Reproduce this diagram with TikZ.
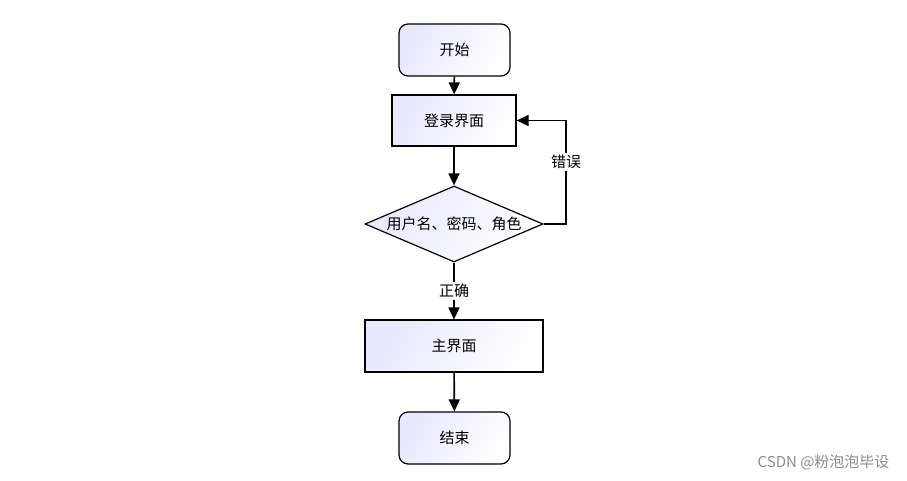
\documentclass[tikz,border=0pt]{standalone}
\usepackage{fontspec}
\setmainfont{Liberation Sans}
\newfontfamily\cjk{Noto Sans CJK SC}
\usetikzlibrary{shapes.geometric,arrows.meta}
\begin{document}
\begin{tikzpicture}[x=1pt,y=-1pt,
  box/.style={draw=black,line width=1.2pt,left color=blue!9!white,right color=white,shading angle=60,font=\cjk\fontsize{15}{18}\selectfont,inner sep=0pt},
  arr/.style={line width=1.6pt,-{Triangle[length=12pt,width=11pt]}},
  lab/.style={fill=white,font=\cjk\fontsize{15}{18}\selectfont,inner sep=2pt}]
\useasboundingbox (0,0) rectangle (907,481);
\node[box,rounded corners=9pt,minimum width=111pt,minimum height=52pt] (s) at (454.5,50) {开始};
\node[box,minimum width=124pt,minimum height=51pt] (l) at (454,120.5) {登录界面};
\node[box,diamond,aspect=2.34,minimum width=178pt,minimum height=76pt,inner sep=0pt] (d) at (454,224) {};
\node[font=\cjk\fontsize{15}{18}\selectfont] (dt) at (454,224) {用户名、密码、角色};
\node[box,minimum width=178pt,minimum height=52pt] (m) at (454,346) {主界面};
\node[box,rounded corners=9pt,minimum width=111pt,minimum height=52pt] (e) at (454.5,438) {结束};
\coordinate (c1) at (566,224);
\coordinate (c2) at (566,120.5);
\draw[arr] (s) -- (l);
\draw[arr] (l) -- (d);
\draw[arr] (d) -- node[lab,pos=0.5]{正确} (m);
\draw[arr] (m) -- (e);
\draw[arr] (d.east) -- (c1) -- node[lab,pos=0.6]{错误} (c2) -- (l.east);
\node[font=\cjk\fontsize{15}{18}\selectfont,text=black!45,anchor=east] (w) at (893,462) {CSDN @粉泡泡毕设};
\end{tikzpicture}
\end{document}
